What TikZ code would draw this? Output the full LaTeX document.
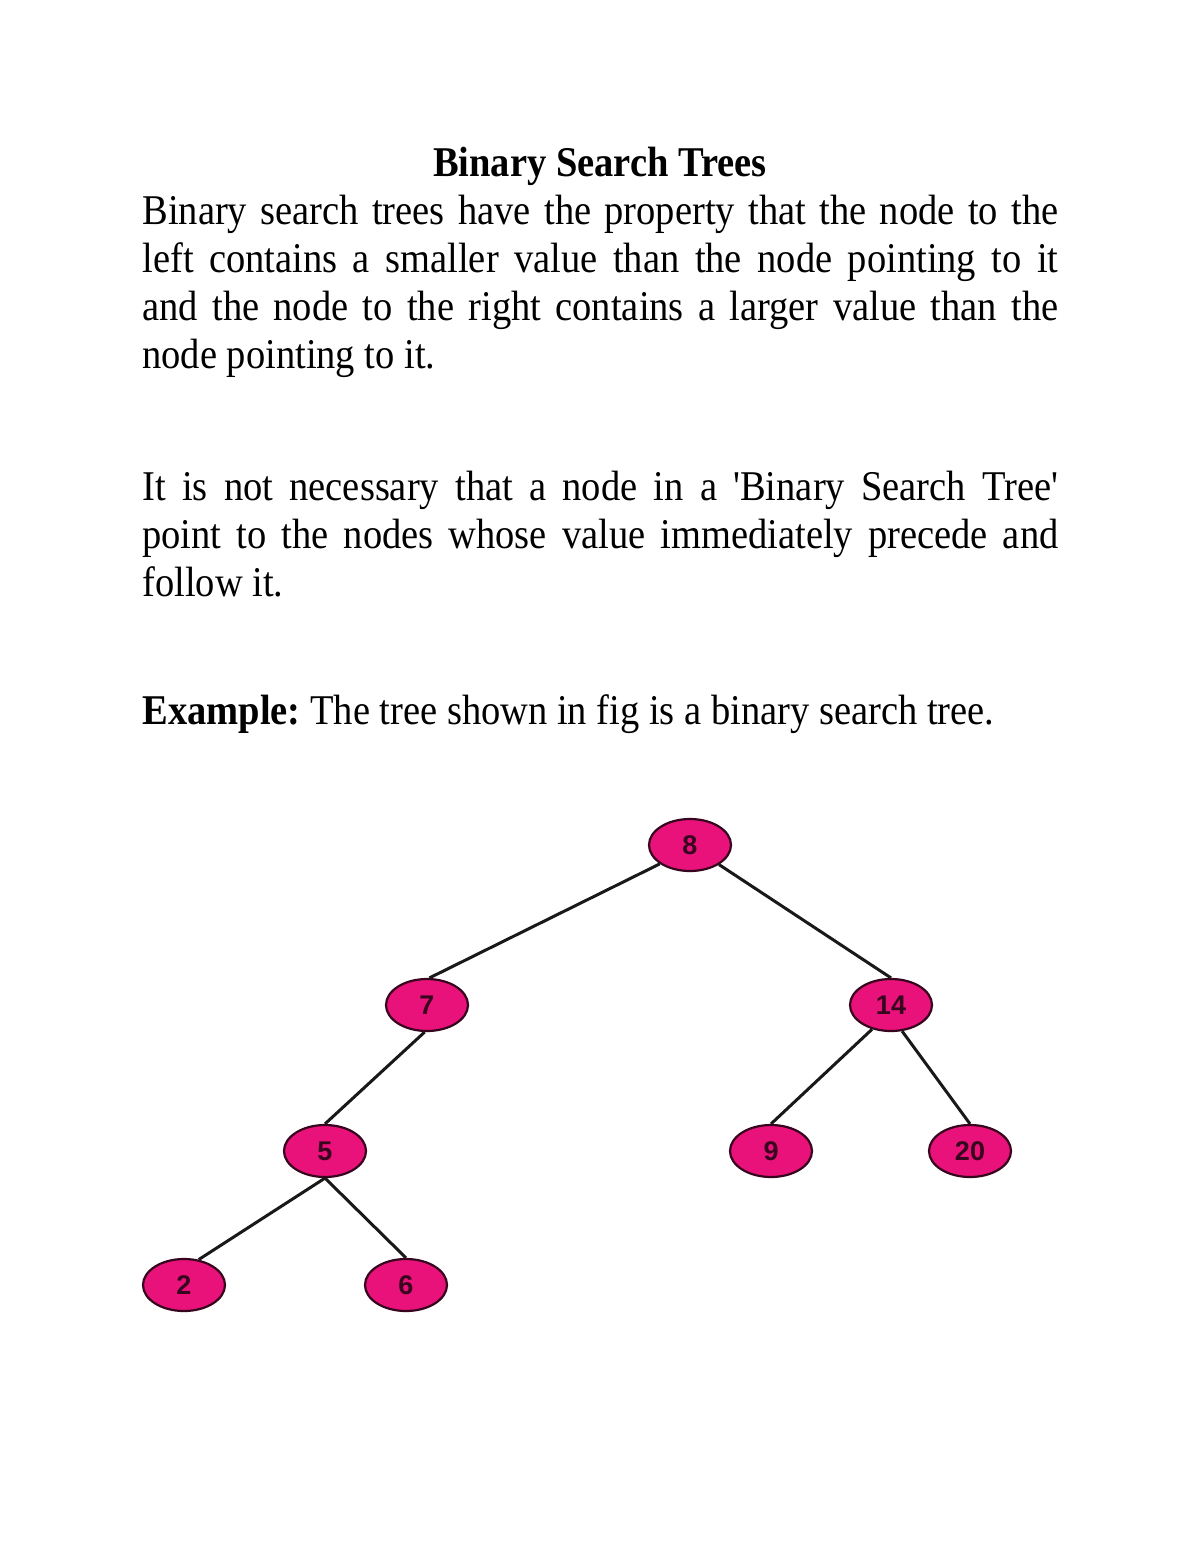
\documentclass[tikz,border=0pt]{standalone}
\usepackage{fontspec}
\setmainfont{Liberation Serif}
\newfontfamily\nodefont{Liberation Sans}
\usetikzlibrary{shapes.geometric}
\definecolor{bstpink}{RGB}{232,18,122}
\definecolor{bstdark}{RGB}{55,5,30}
\definecolor{edgegray}{RGB}{25,25,25}
\newcommand\bodyfont{\fontsize{19.25}{24}\selectfont}
\newcommand\jline[1]{\scalebox{1}[1.1]{\makebox[458pt][s]{#1}}}
\newcommand\pline[1]{\scalebox{1}[1.1]{#1}}
\frenchspacing
\begin{document}
\begin{tikzpicture}[x=0.5pt,y=-0.5pt,
  txt/.style={anchor=base west, inner sep=0, font=\bodyfont},
  bst/.style={ellipse, draw=bstdark, line width=1.1pt, fill=bstpink,
    minimum width=41pt, minimum height=26pt, inner sep=0,
    font=\nodefont\bfseries\fontsize{13.5}{13.5}\selectfont, text=bstdark},
  link/.style={draw=edgegray, line width=1.5pt}]
\useasboundingbox[fill=white] (0,0) rectangle (1200,1553);

\node[anchor=base, inner sep=0, font=\bodyfont\bfseries] (title) at (600,176) {\pline{Binary Search Trees}};

\node[txt] (p1a) at (142,224) {\jline{Binary search trees have the property that the node to the}};
\node[txt] (p1b) at (142,272) {\jline{left contains a smaller value than the node pointing to it}};
\node[txt] (p1c) at (142,320) {\jline{and the node to the right contains a larger value than the}};
\node[txt] (p1d) at (142,368) {\pline{node pointing to it.}};

\node[txt] (p2a) at (142,500) {\jline{It is not necessary that a node in a \textquotesingle Binary Search Tree\textquotesingle}};
\node[txt] (p2b) at (142,548) {\jline{point to the nodes whose value immediately precede and}};
\node[txt] (p2c) at (142,596) {\pline{follow it.}};

\node[txt] (ex) at (142,724) {\pline{\textbf{Example:} The tree shown in fig is a binary search tree.}};

\begin{scope}
\clip (0,0) rectangle (1013,1312);
\node[bst] (n8)  at (690,845)  {8};
\node[bst] (n7)  at (427,1005) {7};
\node[bst] (n14) at (891,1005) {14};
\node[bst] (n5)  at (325,1151) {5};
\node[bst] (n9)  at (771,1151) {9};
\node[bst] (n20) at (970,1151) {20};
\node[bst] (n2)  at (184,1285) {2};
\node[bst] (n6)  at (406,1285) {6};

\draw[link] (n8.212) -- (n7.85);
\draw[link] (n8.-34) -- (n14.north);
\draw[link] (n7.265) -- (n5.north);
\draw[link] (n14.232) -- (n9.north);
\draw[link] (n14.-67) -- (n20.north);
\draw[link] (n5.south) -- (n2.60);
\draw[link] (n5.south) -- (n6.north);
\end{scope}
\end{tikzpicture}
\end{document}
